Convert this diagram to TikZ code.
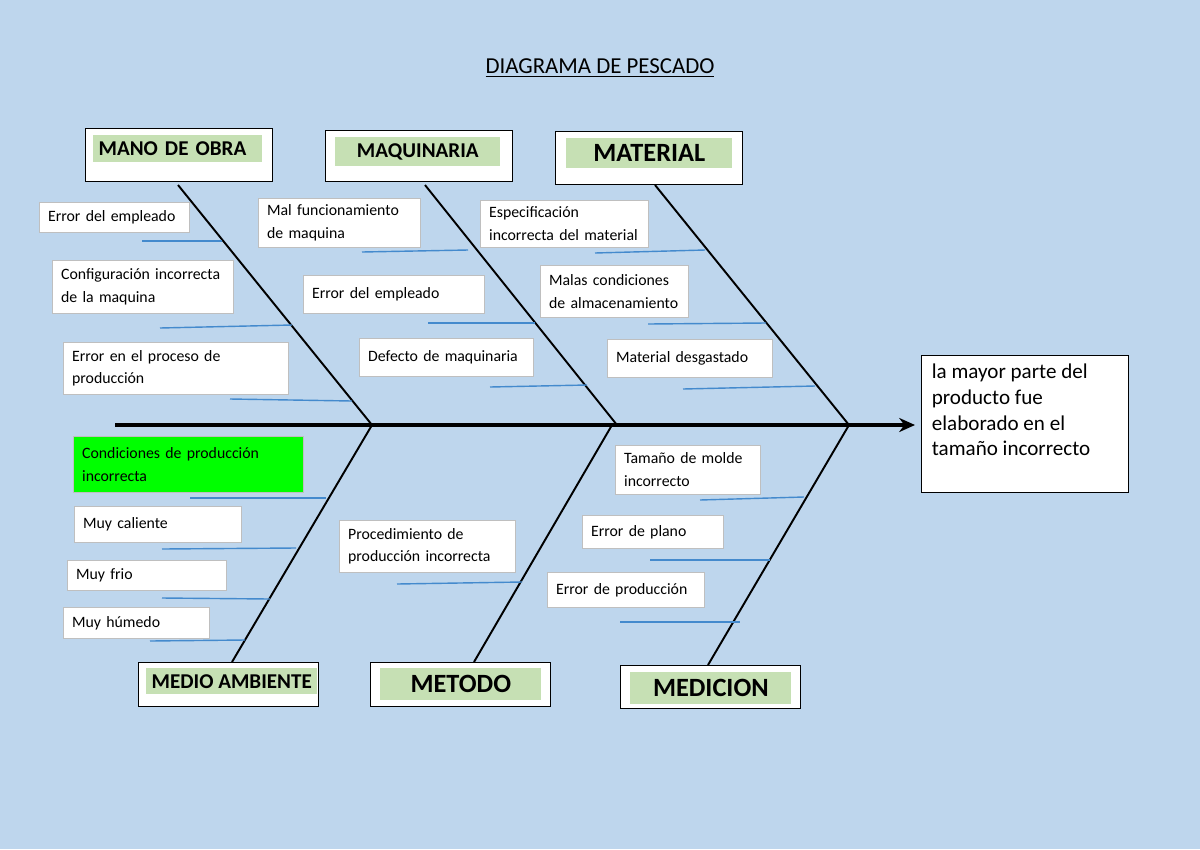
\documentclass[tikz,border=0pt]{standalone}
\usepackage{fontspec}
\setmainfont{Carlito}
\usetikzlibrary{arrows.meta}
\definecolor{bgblue}{RGB}{190,214,237}
\definecolor{catgreen}{RGB}{198,224,180}
\definecolor{lineblue}{RGB}{68,138,205}
\tikzset{
  catbox/.style={draw=black, fill=white, anchor=north west, inner sep=0pt},
  catlabel/.style={fill=catgreen, anchor=north west, font=\bfseries\fontsize{12}{14}\selectfont, inner xsep=3pt, align=left},
  cause/.style={draw=black!25, fill=white, anchor=north west, align=left, inner xsep=5pt,
    font=\fontsize{9}{13}\selectfont},
  blueline/.style={draw=lineblue, line width=0.8pt},
  bone/.style={draw=black, line width=1.1pt}
}
\begin{document}
\begin{tikzpicture}[x=0.02cm, y=-0.02cm]
  \fill[bgblue] (0,0) rectangle (1200,849);
  \node (title) at (600,68) {\fontsize{13}{15}\selectfont\underline{DIAGRAMA DE PESCADO}};
  % spine and effect
  \coordinate (tail) at (115,425);
  \coordinate (head) at (915,425);
  \draw[line width=2.2pt, -{Stealth[length=9pt,width=8pt]}] (tail) -- (head);
  \node (effect) [draw=black, fill=white, anchor=north west, inner xsep=6pt, inner ysep=3pt,
    font=\fontsize{12}{14.6}\selectfont] at (921,355)
    {\parbox[c][2.53cm][t]{3.72cm}{\raggedright\vspace{2pt}la mayor parte del\\producto fue\\elaborado en el\\tamaño incorrecto}};
  % categories
  \node (manobox) [catbox, minimum width=3.74cm, minimum height=1.06cm] at (85,128) {};
  \node (mano) [catlabel, minimum width=3.38cm, minimum height=0.54cm, text width=3.38cm-6pt] at (93,135) {MANO DE OBRA};
  \node (maqbox) [catbox, minimum width=3.74cm, minimum height=1.02cm] at (325,130) {};
  \node (maq) [catlabel, minimum width=3.3cm, minimum height=0.54cm, align=center] at (335,137) {MAQUINARIA};
  \node (matbox) [catbox, minimum width=3.74cm, minimum height=1.06cm] at (555,131) {};
  \node (mat) [catlabel, minimum width=3.32cm, minimum height=0.6cm, align=center,
    font=\bfseries\fontsize{15}{17}\selectfont] at (566,138) {MATERIAL};
  \node (medbox) [catbox, minimum width=3.6cm, minimum height=0.88cm] at (138,662) {};
  \node (med) [catlabel, minimum width=3.26cm, minimum height=0.52cm] at (146,668) {MEDIO AMBIENTE};
  \node (metbox) [catbox, minimum width=3.6cm, minimum height=0.88cm] at (370,662) {};
  \node (met) [catlabel, minimum width=3.22cm, minimum height=0.64cm, align=center,
    font=\bfseries\fontsize{15}{17}\selectfont] at (380,668) {METODO};
  \node (micbox) [catbox, minimum width=3.6cm, minimum height=0.86cm] at (620,665) {};
  \node (mic) [catlabel, minimum width=3.22cm, minimum height=0.64cm, align=center,
    font=\bfseries\fontsize{15}{17}\selectfont] at (630,672) {MEDICION};
  % bones
  \coordinate (t1) at (178,185); \coordinate (j1) at (372,425);
  \coordinate (t2) at (425,185); \coordinate (j2) at (617,425);
  \coordinate (t3) at (655,185); \coordinate (j3) at (849,425);
  \coordinate (b1) at (232,662); \coordinate (k1) at (372,425);
  \coordinate (b2) at (474,662); \coordinate (k2) at (612,425);
  \coordinate (b3) at (708,665); \coordinate (k3) at (849,425);
  \draw[bone] (t1) -- (j1);
  \draw[bone] (t2) -- (j2);
  \draw[bone] (t3) -- (j3);
  \draw[bone] (b1) -- (k1);
  \draw[bone] (b2) -- (k2);
  \draw[bone] (b3) -- (k3);
  % causes, mano de obra
  \node (c11) [cause, minimum width=3cm, minimum height=0.6cm, text width=3cm-10pt] at (39,202) {Error del empleado};
  \node (c12) [cause, minimum width=3.62cm, minimum height=1.06cm, text width=3.62cm-10pt] at (52,260) {Configuración incorrecta\\de la maquina};
  \node (c13) [cause, minimum width=4.5cm, minimum height=1.04cm, text width=4.5cm-10pt] at (63,342) {Error en el proceso de\\producción};
  % maquinaria
  \node (c21) [cause, minimum width=3.24cm, minimum height=0.98cm, text width=3.24cm-10pt] at (258,198) {Mal funcionamiento\\de maquina};
  \node (c22) [cause, minimum width=3.62cm, minimum height=0.76cm, text width=3.62cm-10pt] at (303,275) {Error del empleado};
  \node (c23) [cause, minimum width=3.48cm, minimum height=0.76cm, text width=3.48cm-10pt] at (359,338) {Defecto de maquinaria};
  % material
  \node (c31) [cause, minimum width=3.36cm, minimum height=0.94cm, text width=3.36cm-10pt] at (480,200) {Especificación\\incorrecta del material};
  \node (c32) [cause, minimum width=2.96cm, minimum height=1.04cm, text width=2.96cm-10pt] at (540,265) {Malas condiciones\\de almacenamiento};
  \node (c33) [cause, minimum width=3.3cm, minimum height=0.76cm, text width=3.3cm-10pt] at (607,339) {Material desgastado};
  % medio ambiente
  \node (c41) [cause, fill=green, minimum width=4.6cm, minimum height=1.12cm, text width=4.6cm-10pt] at (73,436) {Condiciones de producción\\incorrecta};
  \node (c42) [cause, minimum width=3.34cm, minimum height=0.72cm, text width=3.34cm-10pt] at (74,506) {Muy caliente};
  \node (c43) [cause, minimum width=3.18cm, minimum height=0.6cm, text width=3.18cm-10pt] at (67,560) {Muy frio};
  \node (c44) [cause, minimum width=2.92cm, minimum height=0.62cm, text width=2.92cm-10pt] at (63,607) {Muy húmedo};
  % metodo
  \node (c51) [cause, minimum width=3.52cm, minimum height=1.04cm, text width=3.52cm-10pt] at (339,520) {Procedimiento de\\producción incorrecta};
  % medicion
  \node (c61) [cause, minimum width=2.9cm, minimum height=0.98cm, text width=2.9cm-10pt] at (615,445) {Tamaño de molde\\incorrecto};
  \node (c62) [cause, minimum width=2.82cm, minimum height=0.66cm, text width=2.82cm-10pt] at (582,515) {Error de plano};
  \node (c63) [cause, minimum width=3.14cm, minimum height=0.7cm, text width=3.14cm-10pt] at (547,572) {Error de producción};
  % blue lines
  \draw[blueline] (142,241) -- (222,241);
  \draw[blueline] (160,328) -- (292,325);
  \draw[blueline] (230,399) -- (352,401);
  \draw[blueline] (362,252) -- (468,250);
  \draw[blueline] (428,323) -- (535,323);
  \draw[blueline] (490,387) -- (587,385);
  \draw[blueline] (595,253) -- (705,250);
  \draw[blueline] (648,324) -- (766,323);
  \draw[blueline] (683,389) -- (815,386);
  \draw[blueline] (190,498) -- (326,498);
  \draw[blueline] (162,549) -- (296,548);
  \draw[blueline] (162,598) -- (270,599);
  \draw[blueline] (150,641) -- (245,640);
  \draw[blueline] (397,584) -- (522,582);
  \draw[blueline] (700,500) -- (804,497);
  \draw[blueline] (650,560) -- (770,560);
  \draw[blueline] (620,622) -- (740,622);
\end{tikzpicture}
\end{document}
